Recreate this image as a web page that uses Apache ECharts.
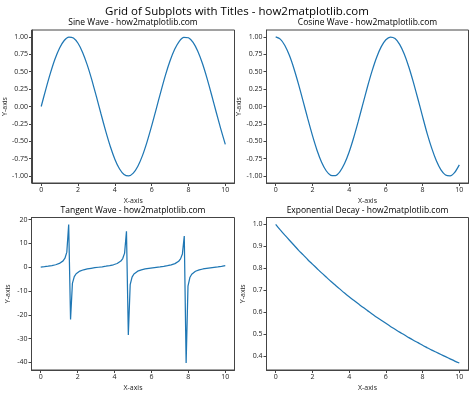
<!DOCTYPE html>
<html>
<head>
<meta charset="utf-8">
<script src="https://cdn.jsdelivr.net/npm/echarts@6/dist/echarts.min.js"></script>
<style>
html,body{margin:0;padding:0;background:#fff;}
#chart{width:474px;height:395px;}
</style>
</head>
<body>
<div id="chart"></div>
<script>
// x positions for sine / cosine / exponential (step 0.25)
const xSmooth = [0,0.25,0.5,0.75,1,1.25,1.5,1.75,2,2.25,2.5,2.75,3,3.25,3.5,3.75,4,4.25,4.5,4.75,5,5.25,5.5,5.75,6,6.25,6.5,6.75,7,7.25,7.5,7.75,8,8.25,8.5,8.75,9,9.25,9.5,9.75,10];
const sineValues = [0,0.247,0.479,0.682,0.841,0.949,0.997,0.984,0.909,0.778,0.598,0.382,0.141,-0.108,-0.351,-0.572,-0.757,-0.895,-0.978,-0.999,-0.959,-0.859,-0.706,-0.508,-0.279,-0.033,0.215,0.451,0.657,0.823,0.938,0.995,0.989,0.921,0.798,0.625,0.412,0.173,-0.075,-0.319,-0.544];
const cosineValues = [1,0.969,0.878,0.732,0.540,0.315,0.071,-0.178,-0.416,-0.628,-0.801,-0.924,-0.990,-0.994,-0.936,-0.820,-0.654,-0.446,-0.211,0.038,0.284,0.512,0.709,0.861,0.960,0.999,0.977,0.893,0.754,0.568,0.347,0.104,-0.146,-0.390,-0.602,-0.780,-0.911,-0.985,-0.997,-0.948,-0.839];
const expValues = [1,0.975,0.951,0.928,0.905,0.882,0.861,0.839,0.819,0.799,0.779,0.760,0.741,0.723,0.705,0.687,0.670,0.654,0.638,0.622,0.607,0.592,0.577,0.563,0.549,0.535,0.522,0.509,0.497,0.484,0.472,0.461,0.449,0.438,0.427,0.417,0.407,0.397,0.387,0.377,0.368];
// x positions for tangent (100 samples)
const xTan = [0,0.101,0.202,0.303,0.404,0.505,0.606,0.707,0.808,0.909,1.010,1.111,1.212,1.313,1.414,1.515,1.616,1.717,1.818,1.919,2.020,2.121,2.222,2.323,2.424,2.525,2.626,2.727,2.828,2.929,3.030,3.131,3.232,3.333,3.434,3.535,3.636,3.737,3.838,3.939,4.040,4.141,4.242,4.343,4.444,4.545,4.646,4.747,4.848,4.949,5.051,5.152,5.253,5.354,5.455,5.556,5.657,5.758,5.859,5.960,6.061,6.162,6.263,6.364,6.465,6.566,6.667,6.768,6.869,6.970,7.071,7.172,7.273,7.374,7.475,7.576,7.677,7.778,7.879,7.980,8.081,8.182,8.283,8.384,8.485,8.586,8.687,8.788,8.889,8.990,9.091,9.192,9.293,9.394,9.495,9.596,9.697,9.798,9.899,10];
const tanValues = [0,0.101,0.205,0.313,0.427,0.552,0.692,0.853,1.044,1.280,1.590,2.019,2.668,3.794,6.33,17.95,-22.0,-6.78,-3.96,-2.755,-2.072,-1.629,-1.313,-1.070,-0.870,-0.710,-0.567,-0.440,-0.324,-0.216,-0.112,-0.010,0.091,0.194,0.301,0.415,0.539,0.680,0.839,1.026,1.257,1.557,1.968,2.585,3.642,5.935,15.15,-28.5,-7.30,-4.14,-2.845,-2.131,-1.667,-1.340,-1.091,-0.890,-0.724,-0.580,-0.452,-0.335,-0.226,-0.122,-0.021,0.081,0.183,0.290,0.403,0.526,0.665,0.822,1.005,1.231,1.519,1.919,2.508,3.501,5.584,13.11,-40.3,-7.91,-4.33,-2.940,-2.187,-1.706,-1.369,-1.114,-0.909,-0.740,-0.594,-0.464,-0.347,-0.237,-0.133,-0.031,0.070,0.173,0.279,0.392,0.514,0.648];

const xTicks = [0,2,4,6,8,10];
const trigTicks = [-1,-0.75,-0.5,-0.25,0,0.25,0.5,0.75,1];
const tanTicks = [-40,-30,-20,-10,0,10,20];
const expTicks = [0.4,0.5,0.6,0.7,0.8,0.9,1.0];

const mainTitle = 'Grid of Subplots with Titles - how2matplotlib.com';
const subTitles = ['Sine Wave - how2matplotlib.com','Cosine Wave - how2matplotlib.com','Tangent Wave - how2matplotlib.com','Exponential Decay - how2matplotlib.com'];

const FONT = '"Open Sans", "Noto Sans", sans-serif';
const TXT = '#222';
const LINE = '#1f77b4';
const FRAME = '#444';

const grids = [
  {left:31.5, top:30, width:203, height:153},
  {left:266.5, top:30, width:202, height:153},
  {left:31.5, top:217.5, width:203, height:152.5},
  {left:266.5, top:217.5, width:202, height:152.5}
];

function pairs(xs, ys){ return xs.map((x,i)=>[x, ys[i]]); }

function xAxisFor(i){
  return {
    type:'value', gridIndex:i, min:-0.5, max:10.5,
    name:'X-axis', nameLocation:'middle', nameGap:14,
    nameTextStyle:{fontFamily:FONT, fontSize:7, color:TXT},
    axisLine:{show:true, onZero:false, lineStyle:{color:FRAME, width:1}},
    axisTick:{show:true, customValues:xTicks, length:3, lineStyle:{color:FRAME}},
    axisLabel:{customValues:xTicks, fontFamily:FONT, fontSize:7, color:TXT, margin:3},
    splitLine:{show:false}
  };
}
function yAxisFor(i, min, max, ticks, dec, gap){
  return {
    type:'value', gridIndex:i, min:min, max:max,
    name:'Y-axis', nameLocation:'middle', nameRotate:90, nameGap:gap,
    nameTextStyle:{fontFamily:FONT, fontSize:7, color:TXT},
    axisLine:{show:true, onZero:false, lineStyle:{color:FRAME, width:1}},
    axisTick:{show:true, customValues:ticks, length:3, lineStyle:{color:FRAME}},
    axisLabel:{customValues:ticks, fontFamily:FONT, fontSize:7, color:TXT, margin:4,
      formatter:v=>Number(v).toFixed(dec)},
    splitLine:{show:false}
  };
}

const chart = echarts.init(document.getElementById('chart'), null, {renderer:'canvas'});

const graphics = [
  {type:'text', x:237, y:12, style:{text:mainTitle, font:'11.5px '+FONT, fill:'#000', textAlign:'center', textVerticalAlign:'middle'}}
];
grids.forEach((g,i)=>{
  graphics.push({type:'text', x:g.left+g.width/2, y:g.top-7, style:{text:subTitles[i], font:'8.5px '+FONT, fill:'#000', textAlign:'center', textVerticalAlign:'middle'}});
  graphics.push({type:'rect', shape:{x:g.left, y:g.top, width:g.width, height:g.height}, style:{fill:'none', stroke:FRAME, lineWidth:1}, silent:true, z:10});
});

chart.setOption({
  backgroundColor:'#fff',
  animation:false,
  grid: grids.map(g=>Object.assign({containLabel:false}, g)),
  xAxis: [0,1,2,3].map(xAxisFor),
  yAxis: [
    yAxisFor(0,-1.1,1.1,trigTicks,2,23),
    yAxisFor(1,-1.1,1.1,trigTicks,2,23),
    yAxisFor(2,-43.2,20.9,tanTicks,0,20),
    yAxisFor(3,0.3363,1.0316,expTicks,1,20)
  ],
  graphic: graphics,
  series: [
    {type:'line', xAxisIndex:0, yAxisIndex:0, data:pairs(xSmooth, sineValues), smooth:0.2, showSymbol:false, lineStyle:{color:LINE, width:1.25}},
    {type:'line', xAxisIndex:1, yAxisIndex:1, data:pairs(xSmooth, cosineValues), smooth:0.2, showSymbol:false, lineStyle:{color:LINE, width:1.25}},
    {type:'line', xAxisIndex:2, yAxisIndex:2, data:pairs(xTan, tanValues), showSymbol:false, lineStyle:{color:LINE, width:1.25}},
    {type:'line', xAxisIndex:3, yAxisIndex:3, data:pairs(xSmooth, expValues), smooth:0.2, showSymbol:false, lineStyle:{color:LINE, width:1.25}}
  ]
});
</script>
</body>
</html>
